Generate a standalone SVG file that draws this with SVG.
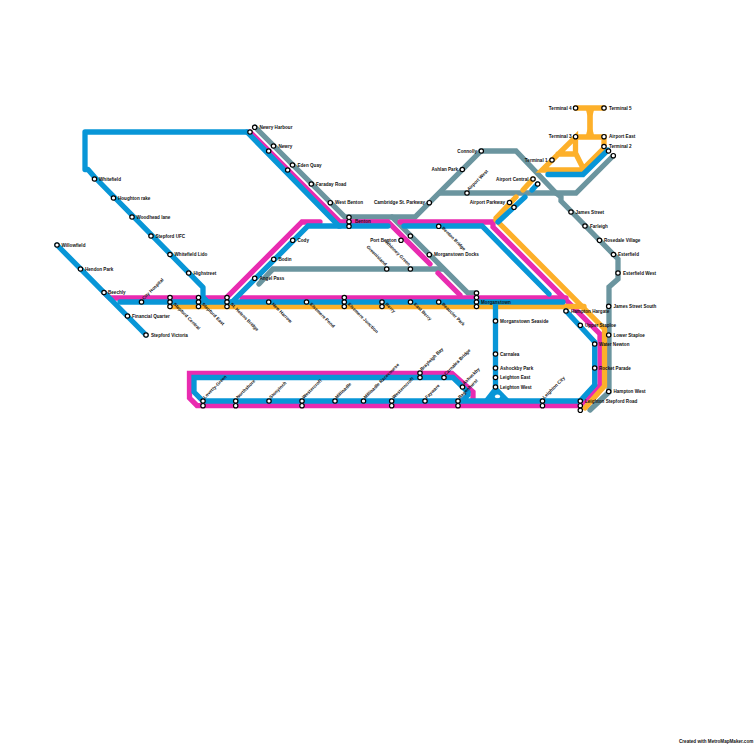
<svg xmlns="http://www.w3.org/2000/svg" width="755" height="755" viewBox="0 0 755 755">
<style>
.l{fill:none;stroke-width:5.3;stroke-linejoin:miter;stroke-linecap:round}
.b{stroke:#0896d7}.p{stroke:#e92bb0}.o{stroke:#fdb02a}.t{stroke:#6b959f}
.rj{stroke-linejoin:round}
circle{fill:#fff;stroke:#000;stroke-width:1.2;r:2.2px}
text{font-family:"Liberation Sans",Arial,sans-serif;font-weight:700;font-size:4.6px;fill:#111}
.e{text-anchor:end}
</style>
<rect width="755" height="755" fill="#fff"/>
<g id="connectors">
<path class="l t" d="M255 127L345 217H415L481 151H516L556 193"/>
<path class="l t" d="M392 217L468 293H476.5"/>
<path class="l t" d="M259 284L273 269H443"/>
<path class="l t" d="M440 193H576L613 156"/>
<path class="l t" d="M556 193L561 197V201L613 254L618 259V279L609 287V392L590 410"/>
<path class="l p" d="M104 292.5L110 298H226L302 222H320"/>
<path class="l p" d="M250 132L340 222H388L430 264"/>
<path class="l p" d="M438 273L460 295"/>
<path class="l p" d="M242 298H566"/>
<path class="l p" d="M400 222H493V227L600 334V385L580 405.7H197L189.5 398V373.5H452L473 392V405"/>
<path class="l o" d="M170 306.5H584"/>
<path class="l o" d="M516 197L496 218V220L604.5 329V386L585 408"/>
<path class="l o" d="M523 190L533 179"/>
<path class="l o" d="M575.5 108H604M590 108V137M575.5 137H604V148L582 170H542L575.5 137V153L582 166M558 154H575.5"/>
<path d="M586 110H594L592.500 116V129L594 135H586L587.500 129V116Z" fill="#fdb02a"/>
<path class="l b" d="M57 245L146 335"/>
<path class="l b rj" d="M247 132H85V169.500H88L94.500 177L203 287.300V297L208 302"/>
<path class="l b" d="M247 132L339 226H388"/>
<path class="l b" d="M404 226H482L549 294"/>
<path class="l b" d="M120 302H563"/>
<path class="l b" d="M232 302L308 226H340"/>
<path class="l b" d="M498 222L525 197"/>
<path class="l b" d="M532 190L537.500 184"/>
<path class="l b" d="M548 174.500H583L608 150"/>
<path class="l b" d="M495.500 304V388"/>
<path d="M495.500 385L483 401H511Z" fill="#0896d7"/>
<ellipse cx="497.500" cy="396.500" rx="2.600" ry="1.900" fill="#fff"/>
<path class="l b" d="M566 311L594.700 342V385L580 401H203L194 392V377.500H453L468 392V395L462 401"/>
</g>
<g id="stations">
<g id="willowfield"><circle cx="57" cy="245" r="2"/><text x="61.500" y="246.600">Willowfield</text></g>
<g id="hendon-park"><circle cx="80.500" cy="269" r="2"/><text x="85" y="270.600">Hendon Park</text></g>
<g id="beechly"><circle cx="104" cy="292.500" r="2"/><text x="108" y="294.100">Beechly</text></g>
<g id="financial-quarter"><circle cx="127.500" cy="316" r="2"/><text x="132" y="317.600">Financial Quarter</text></g>
<g id="stepford-victoria"><circle cx="146" cy="335" r="2"/><text x="151" y="336.600">Stepford Victoria</text></g>
<g id="whitefield"><circle cx="94.500" cy="179" r="2"/><text x="99" y="180.600">Whitefield</text></g>
<g id="houghton-rake"><circle cx="113.500" cy="198" r="2"/><text x="118" y="199.600">Houghton rake</text></g>
<g id="woodhead-lane"><circle cx="132" cy="217" r="2"/><text x="136.500" y="218.600">Woodhead lane</text></g>
<g id="stepford-ufc"><circle cx="151" cy="236" r="2"/><text x="155.500" y="237.600">Stepford UFC</text></g>
<g id="whitefield-lido"><circle cx="170" cy="254.500" r="2"/><text x="174.500" y="256.100">Whitefield Lido</text></g>
<g id="highstreet"><circle cx="188.700" cy="273" r="2"/><text x="193.500" y="274.600">Highstreet</text></g>
<g id="city-hospital"><circle cx="141.500" cy="302" r="2"/><text transform="translate(144 300) rotate(-45)">City Hospital</text></g>
<g id="stepford-central"><circle cx="170" cy="297.500" r="2"/><circle cx="170" cy="302" r="2"/><circle cx="170" cy="306.500" r="2"/><text transform="translate(173 304.500) rotate(45)">Stepford Central</text></g>
<g id="stepford-east"><circle cx="198.500" cy="297.500" r="2"/><circle cx="198.500" cy="302" r="2"/><circle cx="198.500" cy="306.500" r="2"/><text transform="translate(201.500 304.500) rotate(45)">Stepford East</text></g>
<g id="st-helens-bridge"><circle cx="227" cy="297.500" r="2"/><circle cx="227" cy="302" r="2"/><circle cx="227" cy="306.500" r="2"/><text transform="translate(230 304.500) rotate(45)">St. Helens Bridge</text></g>
<g id="new-harrow"><circle cx="268.700" cy="302" r="2"/><text transform="translate(271.500 304.500) rotate(45)">New Harrow</text></g>
<g id="elsemere-pond"><circle cx="306.500" cy="302" r="2"/><text transform="translate(309.500 304.500) rotate(45)">Elsemere Pond</text></g>
<g id="elsemere-junction"><circle cx="344.300" cy="297.500" r="2"/><circle cx="344.300" cy="302" r="2"/><circle cx="344.300" cy="306.500" r="2"/><text transform="translate(347.500 304.500) rotate(45)">Elsemere Junction</text></g>
<g id="berry"><circle cx="382" cy="302" r="2"/><circle cx="382" cy="306.500" r="2"/><text transform="translate(385 304.500) rotate(45)">Berry</text></g>
<g id="east-berry"><circle cx="410.500" cy="302" r="2"/><text transform="translate(413.500 304.500) rotate(45)">East Berry</text></g>
<g id="beaucler-park"><circle cx="438.700" cy="302" r="2"/><text transform="translate(441.500 304.500) rotate(45)">Beaucler Park</text></g>
<g id="morganstown"><circle cx="476.500" cy="293" r="2"/><circle cx="476.500" cy="297.500" r="2"/><circle cx="476.500" cy="302" r="2"/><circle cx="476.500" cy="306.500" r="2"/><text x="481" y="303.600">Morganstown</text></g>
<g id="morganstown-seaside"><circle cx="495.500" cy="321" r="2"/><text x="500" y="322.600">Morganstown Seaside</text></g>
<g id="carnalea"><circle cx="495.500" cy="354" r="2"/><text x="500" y="355.600">Carnalea</text></g>
<g id="ashockby-park"><circle cx="495.500" cy="368" r="2"/><text x="500" y="369.600">Ashockby Park</text></g>
<g id="leighton-east"><circle cx="495.500" cy="377.500" r="2"/><text x="500" y="379.100">Leighton East</text></g>
<g id="leighton-west"><circle cx="495.500" cy="387" r="2"/><text x="500" y="388.600">Leighton West</text></g>
<g id="lovetty-green"><circle cx="203" cy="401" r="2"/><circle cx="203" cy="405.700" r="2"/><text transform="translate(205 399) rotate(-45)">Lovetty-Green</text></g>
<g id="northshore"><circle cx="235.700" cy="401" r="2"/><circle cx="235.700" cy="405.700" r="2"/><text transform="translate(238 399) rotate(-45)">Northshore</text></g>
<g id="stonyinch"><circle cx="269" cy="401" r="2"/><text transform="translate(271 399) rotate(-45)">Stonyinch</text></g>
<g id="westercroft"><circle cx="302" cy="401" r="2"/><circle cx="302" cy="405.700" r="2"/><text transform="translate(304 399) rotate(-45)">Westercroft</text></g>
<g id="millisadle"><circle cx="335" cy="401" r="2"/><text transform="translate(337 399) rotate(-45)">Millisadle</text></g>
<g id="millisadle-racecourse"><circle cx="363.500" cy="401" r="2"/><text transform="translate(365.500 399) rotate(-45)">Millisadle Racecourse</text></g>
<g id="westerncroft"><circle cx="391.700" cy="401" r="2"/><circle cx="391.700" cy="405.700" r="2"/><text transform="translate(394 399) rotate(-45)">Westerncroft</text></g>
<g id="fayware"><circle cx="425" cy="401" r="2"/><text transform="translate(427 399) rotate(-45)">Fayware</text></g>
<g id="bagenhurst"><circle cx="458" cy="401" r="2"/><circle cx="458" cy="405.700" r="2"/><text transform="translate(460 399) rotate(-45)">Bagenhurst</text></g>
<g id="ashockby"><circle cx="462.500" cy="387" r="2"/><text transform="translate(464.500 385) rotate(-45)">Ashockby</text></g>
<g id="carnalea-bridge"><circle cx="444" cy="377.500" r="2"/><text transform="translate(446 375.500) rotate(-45)">Carnalea Bridge</text></g>
<g id="brayleigh-bay"><circle cx="420" cy="373" r="2"/><circle cx="420" cy="377.500" r="2"/><text transform="translate(422 371) rotate(-45)">Brayleigh Bay</text></g>
<g id="leighton-city"><circle cx="542.500" cy="401" r="2"/><circle cx="542.500" cy="405.700" r="2"/><text transform="translate(544.500 399) rotate(-45)">Leighton City</text></g>
<g id="leighton-stepford-road"><circle cx="580.300" cy="401" r="2"/><circle cx="580.300" cy="405.700" r="2"/><circle cx="580.300" cy="410.300" r="2"/><text x="585" y="402.600">Leighton Stepford Road</text></g>
<g id="james-street"><circle cx="571" cy="212" r="2"/><text x="575.500" y="213.600">James Street</text></g>
<g id="farleigh"><circle cx="585" cy="226" r="2"/><text x="590" y="227.600">Farleigh</text></g>
<g id="rosedale-village"><circle cx="599.500" cy="240.300" r="2"/><text x="604" y="241.900">Rosedale Village</text></g>
<g id="esterfield"><circle cx="613.500" cy="254.500" r="2"/><text x="618" y="256.100">Esterfield</text></g>
<g id="esterfield-west"><circle cx="618" cy="273" r="2"/><text x="623" y="274.600">Esterfield West</text></g>
<g id="james-street-south"><circle cx="608.700" cy="306.300" r="2"/><text x="613.500" y="307.900">James Street South</text></g>
<g id="lower-staploe"><circle cx="608.700" cy="335" r="2"/><text x="613.500" y="336.600">Lower Staploe</text></g>
<g id="hampton-west"><circle cx="608.700" cy="391.500" r="2"/><text x="613.500" y="393.100">Hampton West</text></g>
<g id="hampton-hargate"><circle cx="566" cy="311" r="2"/><text x="571" y="312.600">Hampton Hargate</text></g>
<g id="upper-staploe"><circle cx="580.300" cy="325.300" r="2"/><text x="585" y="326.900">Upper Staploe</text></g>
<g id="water-newton"><circle cx="594.700" cy="344" r="2"/><text x="599" y="345.600">Water Newton</text></g>
<g id="rocket-parade"><circle cx="594.700" cy="368" r="2"/><text x="599" y="369.600">Rocket Parade</text></g>
<g id="terminal-4"><circle cx="575.600" cy="108" r="2"/><text class="e" x="571.500" y="109.600">Terminal 4</text></g>
<g id="terminal-5"><circle cx="604" cy="108" r="2"/><text x="609" y="109.600">Terminal 5</text></g>
<g id="terminal-3"><circle cx="575.600" cy="136.700" r="2"/><text class="e" x="571.500" y="138.300">Terminal 3</text></g>
<g id="airport-east"><circle cx="604" cy="136.700" r="2"/><text x="609" y="138.300">Airport East</text></g>
<g id="terminal-2"><circle cx="604" cy="146.500" r="2"/><circle cx="608.500" cy="151" r="2"/><circle cx="613.300" cy="155.700" r="2"/><text x="609" y="148.100">Terminal 2</text></g>
<g id="terminal-1"><circle cx="552" cy="160" r="2"/><text class="e" x="547.500" y="161.600">Terminal 1</text></g>
<g id="airport-central"><circle cx="533" cy="179" r="2"/><circle cx="537.700" cy="184" r="2"/><text class="e" x="528.500" y="180.600">Airport Central</text></g>
<g id="airport-parkway"><circle cx="509.500" cy="202.500" r="2"/><circle cx="514" cy="207.300" r="2"/><text class="e" x="505" y="204.100">Airport Parkway</text></g>
<g id="airport-west"><circle cx="467" cy="193" r="2"/><text transform="translate(469 191) rotate(-45)">Airport West</text></g>
<g id="cambridge-st-parkway"><circle cx="429.300" cy="202.700" r="2"/><text class="e" x="425" y="204.300">Cambridge St. Parkway</text></g>
<g id="ashlan-park"><circle cx="462.300" cy="169.500" r="2"/><text class="e" x="458" y="171.100">Ashlan Park</text></g>
<g id="connolly"><circle cx="481.300" cy="151" r="2"/><text class="e" x="477" y="152.600">Connolly</text></g>
<g id="benton-bridge"><circle cx="438.700" cy="226.300" r="2"/><text transform="translate(441.500 228.500) rotate(45)">Benton Bridge</text></g>
<g id="morganstown-docks"><circle cx="429.300" cy="254.700" r="2"/><text x="434" y="256.300">Morganstown Docks</text></g>
<g id="whinney-green"><circle cx="410.400" cy="236" r="2"/><circle cx="410.400" cy="269" r="2"/><text class="e" transform="translate(408.500 266) rotate(45)">Whinney Green</text></g>
<g id="greenisland"><circle cx="386.700" cy="269" r="2"/><text class="e" transform="translate(385 266) rotate(45)">Greenisland</text></g>
<g id="port-benton"><circle cx="401" cy="240.300" r="2"/><text class="e" x="396.500" y="241.900">Port Benton</text></g>
<g id="cody"><circle cx="292.700" cy="240.300" r="2"/><text x="297.500" y="241.900">Cody</text></g>
<g id="bodin"><circle cx="273.700" cy="259.300" r="2"/><text x="278.500" y="260.900">Bodin</text></g>
<g id="angel-pass"><circle cx="254.700" cy="278.300" r="2"/><text x="259.500" y="279.900">Angel Pass</text></g>
<g id="newry-harbour"><circle cx="254.700" cy="127.300" r="2"/><circle cx="250" cy="132" r="2"/><text x="259.500" y="128.900">Newry Harbour</text></g>
<g id="newry"><circle cx="273.500" cy="146" r="2"/><circle cx="268.700" cy="151" r="2"/><text x="278.500" y="147.600">Newry</text></g>
<g id="eden-quay"><circle cx="292.500" cy="165" r="2"/><circle cx="287.700" cy="170" r="2"/><text x="297.500" y="166.600">Eden Quay</text></g>
<g id="faraday-road"><circle cx="311.300" cy="184" r="2"/><text x="316" y="185.600">Faraday Road</text></g>
<g id="west-benton"><circle cx="330.300" cy="202.700" r="2"/><text x="335" y="204.300">West Benton</text></g>
<g id="benton"><circle cx="349" cy="217.300" r="2"/><circle cx="349" cy="221.700" r="2"/><circle cx="349" cy="226.300" r="2"/><text x="355" y="223.300">Benton</text></g>
</g>
<text x="679" y="743">Created with MetroMapMaker.com</text>
</svg>
